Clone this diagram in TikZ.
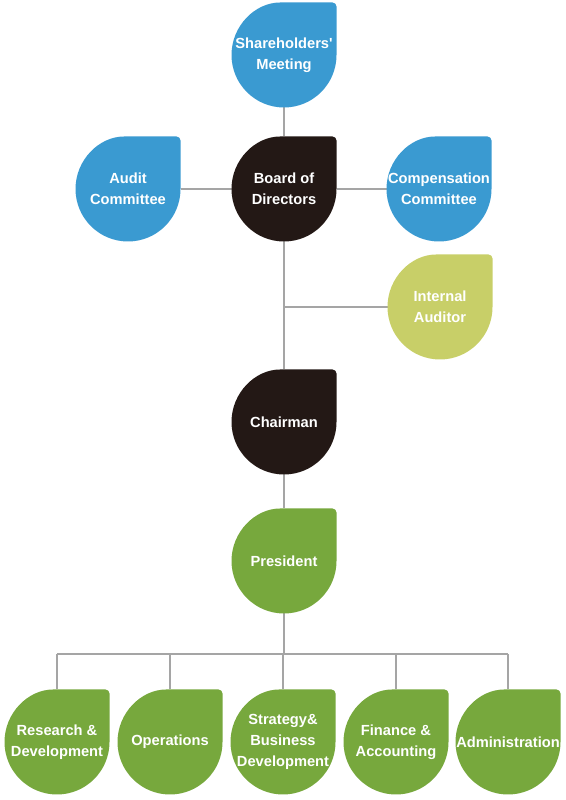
\documentclass[tikz,border=0pt]{standalone}
\usepackage{fontspec}
\setmainfont{Liberation Sans}
\usetikzlibrary{calc}
\definecolor{leafblue}{HTML}{3A9AD1}
\definecolor{leafdark}{HTML}{231815}
\definecolor{leafolive}{HTML}{C8CF68}
\definecolor{leafgreen}{HTML}{77A83D}
\definecolor{linkgrey}{HTML}{A5A5A5}
\pgfdeclarelayer{links}
\pgfdeclarelayer{blobs}
\pgfsetlayers{links,blobs,main}
\def\R{52.5}
\def\leaf#1(#2)[#3]#4{%
	\node[leaf] (#1) at (#2) {#4};
	\begin{pgfonlayer}{blobs}
		\fill[#3] (#1.north) arc (90:360:\R) [rounded corners=3pt] -- (#1.north east) -- cycle;
	\end{pgfonlayer}}

\begin{document}
\begin{tikzpicture}[x=0.75pt, y=0.75pt,
	leaf/.style={rectangle, minimum width=78.75pt, minimum height=78.75pt, inner sep=0pt, outer sep=0pt,
		align=center, text=white, font=\fontsize{11}{16}\selectfont\bfseries},
	link/.style={draw=linkgrey, line width=1.5pt}]
			%%%%% START %%%%%
			\useasboundingbox (0, 0) rectangle (565, 800);
			
			\leaf share(284, 745)[leafblue]{Shareholders\textquotesingle\\Meeting}
			\leaf audit(128, 611)[leafblue]{Audit\\Committee}
			\leaf board(284, 611)[leafdark]{Board of\\Directors}
			\leaf comp(439, 611)[leafblue]{Compensation\\Committee}
			\leaf auditor(440, 493)[leafolive]{Internal\\Auditor}
			\leaf chair(284, 378)[leafdark]{Chairman}
			\leaf pres(284, 239)[leafgreen]{President}
			
			\leaf rnd(57, 58)[leafgreen]{Research \&\\Development}
			\leaf ops(170, 58)[leafgreen]{Operations}
			\leaf sbd(283, 58)[leafgreen]{Strategy\&\\Business\\Development}
			\leaf fin(396, 58)[leafgreen]{Finance \&\\Accounting}
			\leaf adm(508, 58)[leafgreen]{Administration}
			
			\coordinate (bar) at (284, 146);
			
			\begin{pgfonlayer}{links}
				\draw[link] (share.south) -- (board.north);
				\draw[link] (audit.east) -- (board.west);
				\draw[link] (board.east) -- (comp.west);
				\draw[link] (board.south) -- (chair.north);
				\draw[link] (board.south |- auditor.west) -- (auditor.west);
				\draw[link] (chair.south) -- (pres.north);
				\draw[link] (pres.south) -- (pres |- bar);
				\draw[link] (rnd |- bar) -- (adm |- bar);
				\foreach \n in {rnd, ops, sbd, fin, adm}
					\draw[link] (\n.north) -- (\n |- bar);
			\end{pgfonlayer}
			%%%%% END %%%%%
\end{tikzpicture}
\end{document}
